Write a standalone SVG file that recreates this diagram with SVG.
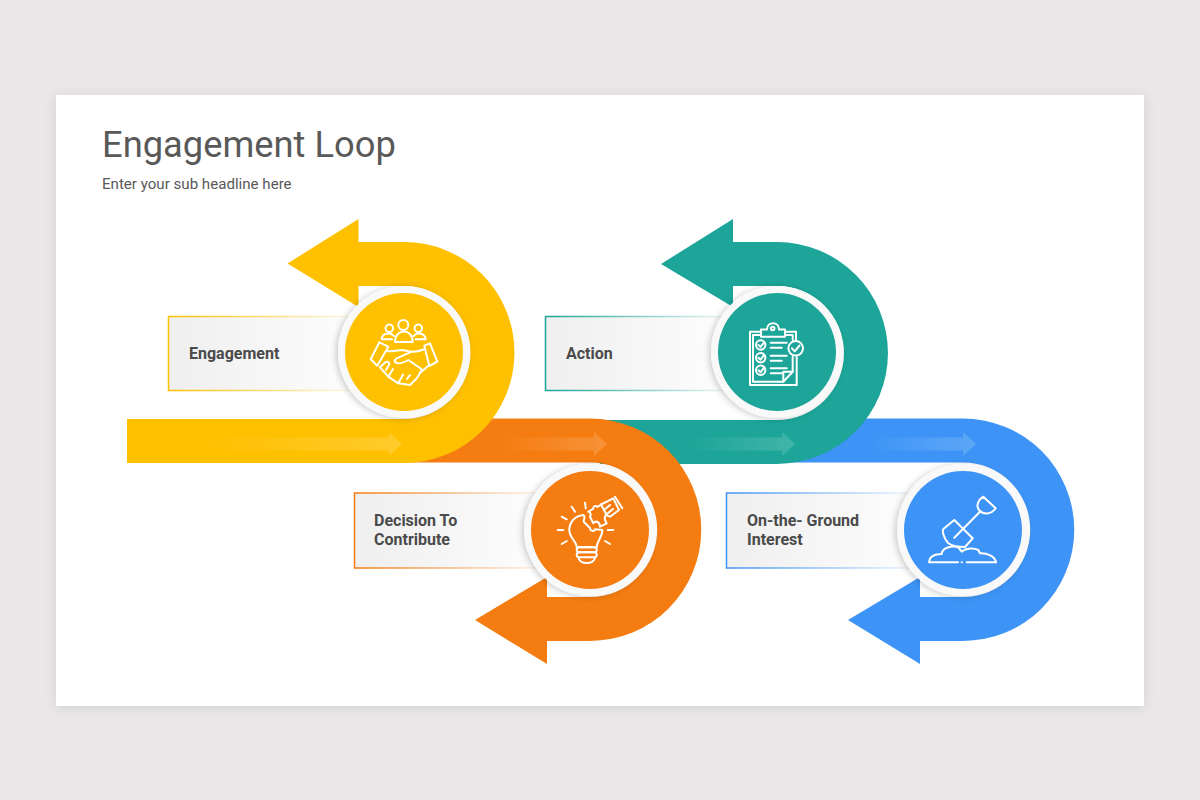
<svg xmlns="http://www.w3.org/2000/svg" width="1200" height="800" viewBox="0 0 1200 800">
<defs>
<filter id="cardShadow" x="-5%" y="-5%" width="110%" height="110%"><feDropShadow dx="0" dy="2" stdDeviation="6" flood-color="#000" flood-opacity="0.1"/></filter>
<filter id="ringShadow" x="-20%" y="-20%" width="140%" height="140%"><feDropShadow dx="-2" dy="1" stdDeviation="3" flood-color="#000" flood-opacity="0.2"/></filter>
<linearGradient id="boxFill"><stop offset="0" stop-color="#efefef"/><stop offset="1" stop-color="#fdfdfd"/></linearGradient>
<linearGradient id="strokeY"><stop offset="0" stop-color="#ffc000"/><stop offset="1" stop-color="#ffc000" stop-opacity="0.08"/></linearGradient>
<linearGradient id="strokeT"><stop offset="0" stop-color="#1ca598"/><stop offset="1" stop-color="#1ca598" stop-opacity="0.08"/></linearGradient>
<linearGradient id="strokeO"><stop offset="0" stop-color="#f57c10"/><stop offset="1" stop-color="#f57c10" stop-opacity="0.08"/></linearGradient>
<linearGradient id="strokeB"><stop offset="0" stop-color="#3d94f6"/><stop offset="1" stop-color="#3d94f6" stop-opacity="0.08"/></linearGradient>
<linearGradient id="ghost"><stop offset="0" stop-color="#fff" stop-opacity="0"/><stop offset="1" stop-color="#fff" stop-opacity="0.17"/></linearGradient>
<path id="ghostLong" d="M-202 -6.500H-13V-12L0 0 -13 12V6.500H-202Z" fill="url(#ghost)"/>
<path id="ghostShort" d="M-108 -6.500H-13V-12L0 0 -13 12V6.500H-108Z" fill="url(#ghost)"/>
</defs>
<style>
.ttl{font-family:Roboto,"Liberation Sans",sans-serif;font-size:36.300px;fill:#595959}
.sub{font-family:Roboto,"Liberation Sans",sans-serif;font-size:15.100px;fill:#595959}
.lbl{font-family:Roboto,"Liberation Sans",sans-serif;font-size:16px;font-weight:700;fill:#4a4a4a}
.ico{fill:none;stroke:#fff;stroke-width:2;stroke-linecap:round;stroke-linejoin:round}
.ring{fill:#f9f9f9;filter:url(#ringShadow)}
</style>
<rect width="1200" height="800" fill="#e9e7e8"/>
<rect x="56" y="95" width="1088" height="611" fill="#fff" filter="url(#cardShadow)"/>
<text class="ttl" x="102" y="157">Engagement Loop</text>
<text class="sub" x="102" y="189">Enter your sub headline here</text>
<g id="connectors">
<path fill="#3d94f6" d="M810 418.500H963A111 111 0 0 1 963 641H920V664L848 620 920 577V597H963A67 67 0 0 0 963 462.500H777Z"/>
<path fill="#1ca598" d="M777 242H733V219L661 264 733 307V286H777A66.500 66.500 0 0 1 777 420H600V464H777A111 111 0 0 0 777 242Z"/>
<path fill="#f57c10" d="M440 418.500H590A111 111 0 0 1 590 641H547V664L475 620 547 577V597H590A67 67 0 0 0 590 462.500H404Z"/>
<path fill="#ffc000" d="M404 242H358.500V219L287.500 263.500 358.500 307V286H404A66.500 66.500 0 0 1 404 419H127V463H404A110.500 110.500 0 0 0 404 242Z"/>
<use href="#ghostShort" x="976" y="444"/>
<use href="#ghostShort" x="795" y="444"/>
<use href="#ghostShort" x="607" y="444"/>
<use href="#ghostLong" x="402" y="444"/>
</g>
<g id="node-engagement">
<rect x="168.500" y="316.500" width="186" height="74" fill="url(#boxFill)" stroke="url(#strokeY)" stroke-width="1.500"/>
<text class="lbl" x="189" y="359">Engagement</text>
<circle class="ring" cx="404" cy="352" r="66"/>
<circle cx="404" cy="352" r="59" fill="#ffc000"/>
<g class="ico">
<circle cx="403.300" cy="325" r="5"/><path d="M395 342C395 328 412.700 328 412.700 342Z"/>
<circle cx="389.300" cy="328.300" r="3.800"/><path d="M381.700 339.300C382 333 390 332 394 336M392 339.300H381.700"/>
<circle cx="418.300" cy="328.300" r="3.800"/><path d="M425.700 339.300C425 333 417 332 413.500 336M415.500 339.300H425.700"/>
<path d="M379.300 342.300L388.300 346.700 377.300 365.700 370.700 359.300Z"/><path d="M424.300 345.700L430 343.300 437.300 361.700 429.300 366Z"/>
<path d="M387.300 351C394 352 398 350 402 350L411.700 351.700C416 352 420 351 424.300 349.300M429.300 365L420 373 417 378 410 385 398.300 383.300 388.300 376.700 380 367.300"/>
<path d="M411.700 351.700L396.700 358.300C394 360 394.500 362 395 362C398 365 403 363 408.300 360L421.700 369.300 420 373"/>
<path d="M380 367.300L385 362.500C387 361 389 362 389.500 364L386 370M388.300 376.700L393 369M398.300 383.300L403 374.500M407 379L410 375"/>
</g>
</g>
<g id="node-action">
<rect x="545.500" y="316.500" width="182" height="74" fill="url(#boxFill)" stroke="url(#strokeT)" stroke-width="1.500"/>
<text class="lbl" x="566" y="359">Action</text>
<circle class="ring" cx="777" cy="352" r="66"/>
<circle cx="777" cy="352" r="59" fill="#1ca598"/>
<g class="ico">
<path d="M761 331.700H750V385H796.700V357M785 331.700H796V340"/>
<path d="M761 335H753V381.700H783.300L792.700 371.700V357M785 335H792.700V340"/><path d="M783.300 381.700V371.700H792.700"/>
<path d="M761 336.700V329.500H767C767 321 779 321 779 329.500H785V336.700Z"/><circle cx="772.700" cy="328.500" r="1.800"/>
<circle cx="760.700" cy="345" r="4.700"/><path d="M758.500 345L760.500 347 763.500 343"/><path d="M770.700 342.700H786.700M770.700 347.700H781.700"/>
<circle cx="760.700" cy="357.700" r="4.700"/><path d="M758.500 357.700L760.500 359.700 763.500 355.700"/><path d="M770.700 355.700H786.700M770.700 360.700H781.700"/>
<circle cx="760.700" cy="370.300" r="4.700"/><path d="M758.500 370.300L760.500 372.300 763.500 368.300"/><path d="M770.700 368.300H786.700M770.700 373.300H781.700"/>
<circle cx="795.700" cy="348.300" r="7.300" fill="#1ca598"/><path d="M792 348.300L794.700 351.300 799.500 345.500"/>
</g>
</g>
<g id="node-decision">
<rect x="354.500" y="493" width="186" height="75" fill="url(#boxFill)" stroke="url(#strokeO)" stroke-width="1.500"/>
<text class="lbl" x="374" y="526">Decision To</text>
<text class="lbl" x="374" y="545">Contribute</text>
<circle class="ring" cx="590" cy="530" r="66"/>
<circle cx="590" cy="530" r="59" fill="#f57c10"/>
<g class="ico">
<path d="M583.300 515C574 516 569.300 523 569.300 530C569.300 538 576.700 541 576.700 547.300H596.700C596.700 541 602.300 538 602.300 530L595 529.300C594 532 590 531 590 528L585 523C581 521 587 518 583.300 515"/>
<rect x="576.700" y="547.300" width="20" height="5" rx="2.500"/><rect x="576.700" y="552.300" width="20" height="5" rx="2.500"/>
<path d="M578.500 557.300C578.500 565 595 565 595 557.300"/>
<path d="M588.300 511.700L593 509C593 506 596 505 597.500 507L601 504.500 606.700 515C604 516 604 519 606.700 523.300L600 526.700C600 522 596 520 593.300 523.300L590 516.700C592 514 589 511 588.300 511.700Z"/>
<path d="M601 504.500L613.300 498.300 619 510 610 516.700 606 515M604 510L610 505M607 514L613 509"/>
<path d="M615 496.700L622.300 508.300"/>
<path d="M585 502.700L585.700 508.300M571.700 506.700L575 511.700M561.700 516.700L566.700 519.300M557.700 530H563.300M561.700 544L566.700 541M607.700 530H613.300M605 541L610 544"/>
</g>
</g>
<g id="node-interest">
<rect x="726.500" y="493" width="186" height="75" fill="url(#boxFill)" stroke="url(#strokeB)" stroke-width="1.500"/>
<text class="lbl" x="747" y="526">On-the- Ground</text>
<text class="lbl" x="747" y="545">Interest</text>
<circle class="ring" cx="963" cy="530" r="66"/>
<circle cx="963" cy="530" r="59" fill="#3d94f6"/>
<g class="ico">
<path d="M954.300 537.700L980 511.700"/>
<path d="M983.300 496.700L995.700 508.300C991 515 983 514.500 979.500 510.500C976 507 977 501 983.300 496.700Z"/>
<path d="M954.300 520L972.700 538.300 965 547C958 547 952 546 948.300 543.300C944 539 942 531 943.300 529Z"/>
<path d="M929.300 562.300C929 557 934 554 941.700 554C942 548 952 545 958.300 547.300L961.700 551.700C964 549 972 547 978.300 550L980 553.300C987 553 995 556 996 562.300"/>
<path d="M929.300 562.300H958M961.700 562.300H962M966.700 562.300H996"/>
</g>
</g>
</svg>
